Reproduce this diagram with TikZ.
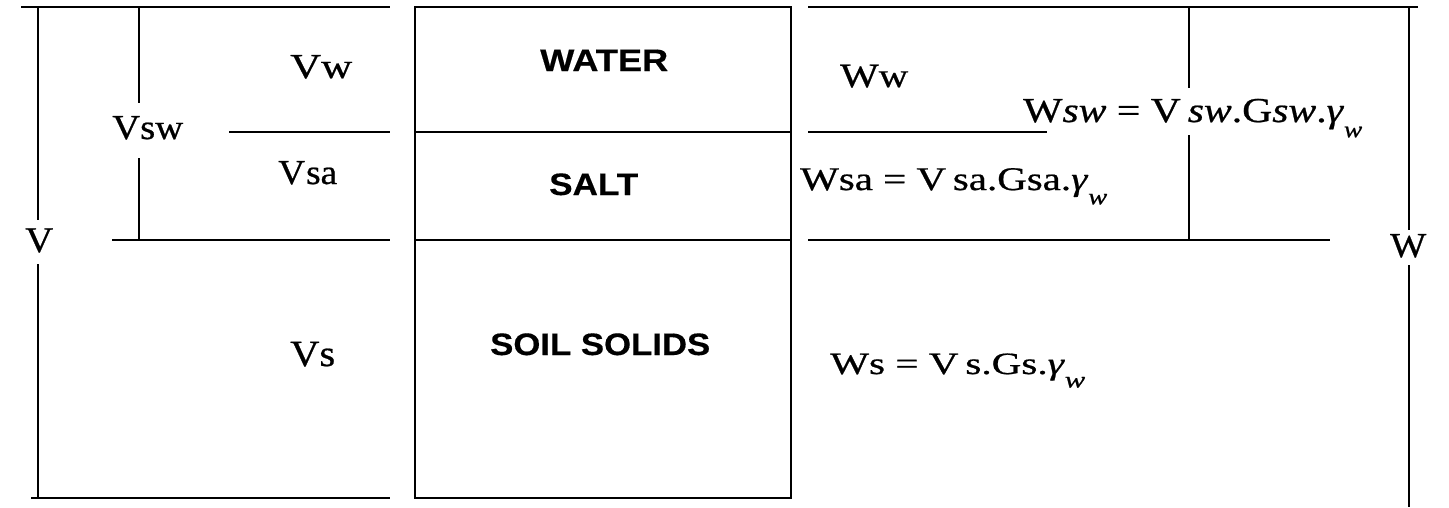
\documentclass[tikz,border=0pt]{standalone}
\usepackage{fontspec}
\usepackage{graphicx}
\setmainfont[FakeBold=0.6]{Liberation Serif}
\newfontfamily\labsans[FakeBold=0.4]{Liberation Sans}
\newcommand{\fitw}[2]{\resizebox{#1pt}{\height}{#2}}
\newcommand{\gw}{\textit{γ}\raisebox{-0.95ex}{\fontsize{23}{23}\selectfont\textit{w}}}
\tikzset{
  lab/.style={inner sep=0pt, anchor=base west, font=\fontsize{#1}{#1}\selectfont},
  lab/.default=35,
  capl/.style={inner sep=0pt, anchor=base west, font=\labsans\bfseries\fontsize{31}{31}\selectfont},
  ln/.style={line width=2.9pt, black}
}
\begin{document}
\begin{tikzpicture}[x=1pt,y=-1pt]
\useasboundingbox (0,0) rectangle (1449,507);
% ---------- left: volumes ----------
\coordinate (lt1) at (21,7);   \coordinate (lt2) at (390,7);
\coordinate (lb1) at (31,498); \coordinate (lb2) at (390,498);
\coordinate (vA) at (38,7);    \coordinate (vB) at (38,220);
\coordinate (vC) at (38,264);  \coordinate (vD) at (38,498);
\coordinate (swA) at (139,7);  \coordinate (swB) at (139,103);
\coordinate (swC) at (139,158);\coordinate (swD) at (139,240);
\coordinate (m1a) at (229,132);\coordinate (m1b) at (390,132);
\coordinate (m2a) at (112,240);\coordinate (m2b) at (390,240);
\draw[ln] (lt1) -- (lt2);
\draw[ln] (lb1) -- (lb2);
\draw[ln] (vA) -- (vB);
\draw[ln] (vC) -- (vD);
\draw[ln] (swA) -- (swB);
\draw[ln] (swC) -- (swD);
\draw[ln] (m1a) -- (m1b);
\draw[ln] (m2a) -- (m2b);
% ---------- middle: phase box ----------
\coordinate (bx1) at (415,7);  \coordinate (bx2) at (791,498);
\coordinate (bw1) at (415,132);\coordinate (bw2) at (791,132);
\coordinate (bs1) at (415,240);\coordinate (bs2) at (791,240);
\draw[ln] (bx1) rectangle (bx2);
\draw[ln] (bw1) -- (bw2);
\draw[ln] (bs1) -- (bs2);
% ---------- right: weights ----------
\coordinate (rt1) at (808,7);   \coordinate (rt2) at (1418,7);
\coordinate (r1a) at (808,132); \coordinate (r1b) at (1047,132);
\coordinate (r2a) at (808,240); \coordinate (r2b) at (1330,240);
\coordinate (wsA) at (1189,7);  \coordinate (wsB) at (1189,88);
\coordinate (wsC) at (1189,135);\coordinate (wsD) at (1189,240);
\coordinate (wA) at (1409,7);   \coordinate (wB) at (1409,230);
\coordinate (wC) at (1409,265); \coordinate (wD) at (1409,507);
\draw[ln] (rt1) -- (rt2);
\draw[ln] (r1a) -- (r1b);
\draw[ln] (r2a) -- (r2b);
\draw[ln] (wsA) -- (wsB);
\draw[ln] (wsC) -- (wsD);
\draw[ln] (wA) -- (wB);
\draw[ln] (wC) -- (wD);
% ---------- labels ----------
\node[lab=36] (V)   at (25,252)  {\fitw{28}{V}};
\node[lab]    (Vsw) at (112,139) {\fitw{71}{Vsw}};
\node[lab]    (Vw)  at (290,78)  {\fitw{62}{Vw}};
\node[lab]    (Vsa) at (278,184) {\fitw{59}{V\kern1pt sa}};
\node[lab=37] (Vs)  at (290,366) {\fitw{45}{Vs}};
\node[capl] (water) at (540,71)  {\fitw{128}{WATER}};
\node[capl] (salt)  at (549,195) {\fitw{89}{SALT}};
\node[capl] (soil)  at (490,355) {\fitw{220}{SOIL SOLIDS}};
\node[lab=34] (Ww)  at (840,87)  {\fitw{68}{Ww}};
\node[lab=35] (Wsw) at (1023,122) {\fitw{339}{W\textit{sw} = V\,\textit{sw}.G\textit{sw}.\gw}};
\node[lab=33] (Wsa) at (800,190) {\fitw{307}{Wsa = V\,sa.Gsa.\gw}};
\node[lab=31] (Ws)  at (830,374) {\fitw{255}{Ws = V\,s.Gs.\gw}};
\node[lab=35] (W)   at (1390,257) {\fitw{36}{W}};
\end{tikzpicture}
\end{document}
